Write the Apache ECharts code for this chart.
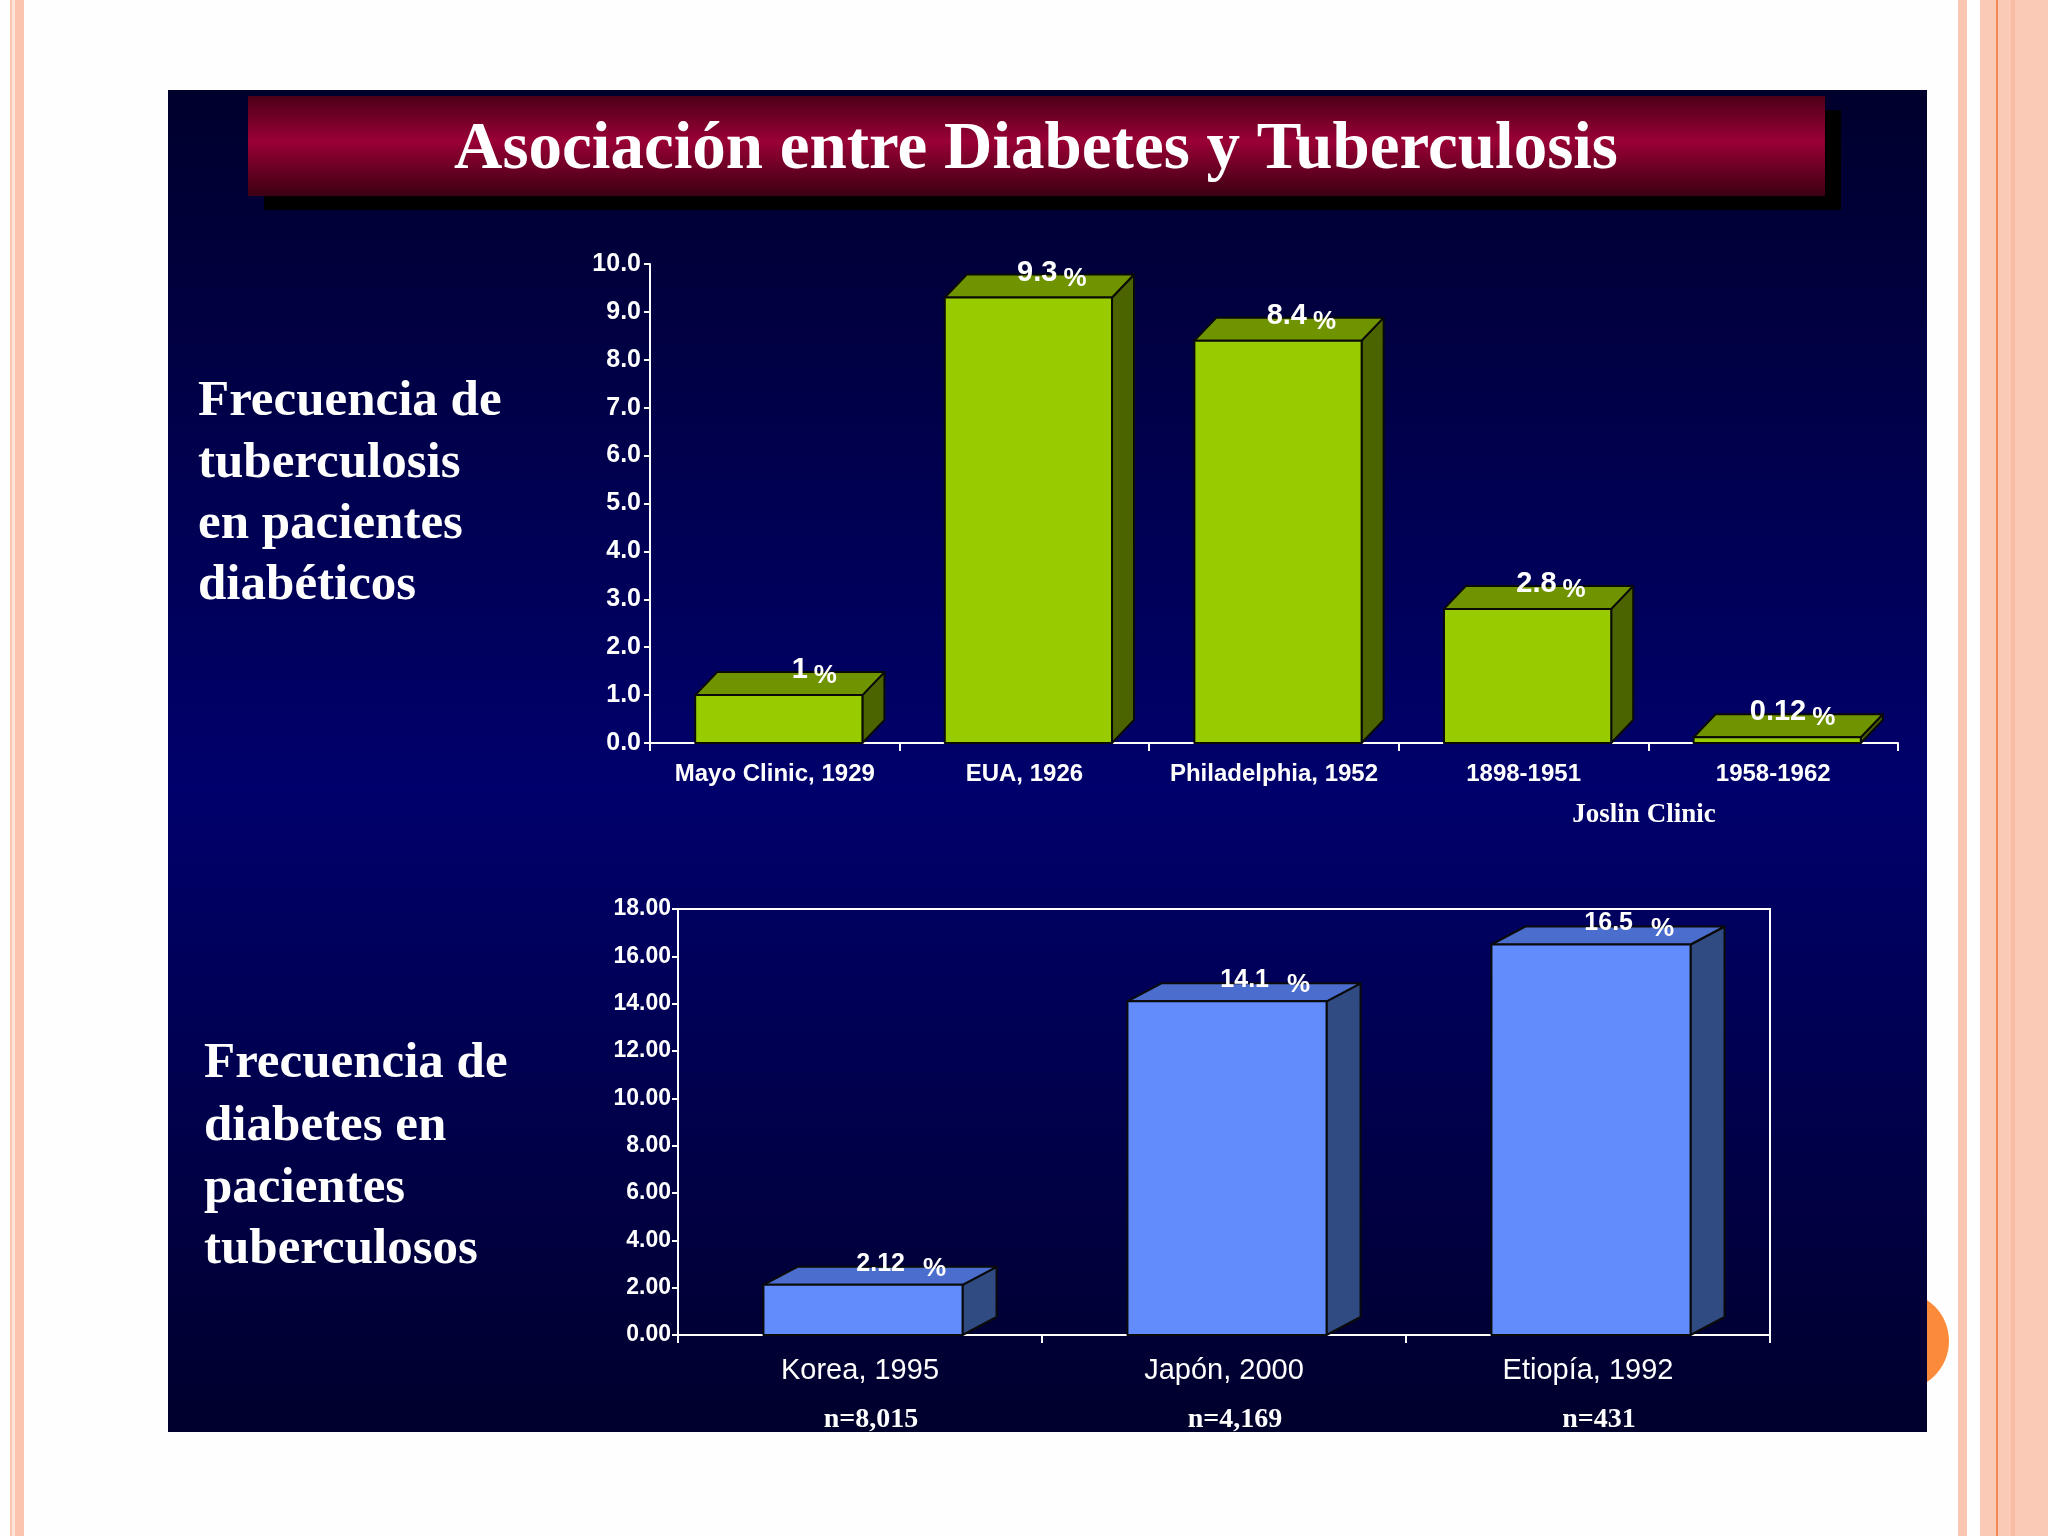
<!DOCTYPE html>
<html>
<head>
    <meta charset="utf-8">
    <title>Asociación entre Diabetes y Tuberculosis</title>
    <script src="https://cdn.jsdelivr.net/npm/echarts@6/dist/echarts.min.js"></script>
    <style>
        body { margin: 0; background: #fefefe; }
    </style>
</head>
<body>
<div id="main" style="width: 2048px;height:1536px;"></div>
<script type="text/javascript">
    // datos - grafico superior
    var tbCategories = ['Mayo Clinic, 1929', 'EUA, 1926', 'Philadelphia, 1952', '1898-1951', '1958-1962'];
    var tbValues = [1, 9.3, 8.4, 2.8, 0.12];
    var tbSideLines = ['Frecuencia de', 'tuberculosis', 'en pacientes', 'diabéticos'];
    var tbNote = 'Joslin Clinic';

    // datos - grafico inferior
    var dmCategories = ['Korea, 1995', 'Japón, 2000', 'Etiopía, 1992'];
    var dmSamples = ['n=8,015', 'n=4,169', 'n=431'];
    var dmValues = [2.12, 14.1, 16.5];
    var dmSideLines = ['Frecuencia de', 'diabetes en', 'pacientes', 'tuberculosos'];

    var titleText = 'Asociación entre Diabetes y Tuberculosis';

    var SANS = '"Liberation Sans", Arial, sans-serif';
    var SERIF = '"Liberation Serif", "Times New Roman", serif';

    // barra 3D con cara frontal, superior y lateral
    function bar3d(o) {
        return function (params, api) {
            var idx = api.value(0), val = api.value(1);
            var base = api.coord([idx, 0]);
            var top = api.coord([idx, val]);
            var bw = api.size([1, 0])[0] * o.ratio;
            var x0 = base[0] - bw / 2 + o.shift, x1 = x0 + bw;
            var yb = base[1], yt = top[1];
            var cx = (x0 + x1) / 2;
            var edge = { stroke: '#0a0a0a', lineWidth: 2, lineJoin: 'round' };
            return {
                type: 'group',
                children: [
                    {
                        type: 'polygon',
                        shape: { points: [[x1, yt], [x1, yb], [x1 + o.dx, yb - o.dy], [x1 + o.dx, yt - o.dy]] },
                        style: Object.assign({ fill: o.side }, edge)
                    },
                    {
                        type: 'polygon',
                        shape: { points: [[x0, yt], [x1, yt], [x1 + o.dx, yt - o.dy], [x0 + o.dx, yt - o.dy]] },
                        style: Object.assign({ fill: o.top }, edge)
                    },
                    {
                        type: 'rect',
                        shape: { x: x0, y: yt, width: bw, height: yb - yt },
                        style: Object.assign({ fill: o.front }, edge)
                    },
                    {
                        type: 'text',
                        style: {
                            text: String(val), x: cx + o.valDx, y: yt + o.valDy,
                            align: 'right', verticalAlign: 'middle',
                            font: 'bold ' + o.valSize + 'px ' + SANS, fill: '#ffffff',
                            shadowColor: 'rgba(0,0,0,0.8)', shadowOffsetX: 1, shadowOffsetY: 1
                        }
                    },
                    {
                        type: 'text',
                        style: {
                            text: '%', x: cx + o.pctDx, y: yt + o.pctDy,
                            align: 'left', verticalAlign: 'middle',
                            font: 'bold ' + o.pctSize + 'px ' + SANS, fill: '#ffffff',
                            shadowColor: 'rgba(0,0,0,0.8)', shadowOffsetX: 1, shadowOffsetY: 1
                        }
                    }
                ]
            };
        };
    }

    function sideText(lines, x, ys) {
        return lines.map(function (t, i) {
            return {
                type: 'text', z: 5, x: x, y: ys[i],
                style: {
                    text: t, font: 'bold 51px ' + SERIF, fill: '#ffffff',
                    align: 'left', verticalAlign: 'middle',
                    shadowColor: '#000000', shadowOffsetX: 2, shadowOffsetY: 2
                }
            };
        });
    }

    var bgElements = [
        { type: 'rect', z: -20, shape: { x: 0, y: 0, width: 2048, height: 1536 }, style: { fill: '#fefefe' } },
        { type: 'rect', z: -19, shape: { x: 10, y: 0, width: 14, height: 1536 }, style: { fill: '#fbc4ae' } },
        { type: 'rect', z: -18, shape: { x: 12, y: 0, width: 3, height: 1536 }, style: { fill: '#fde2d6' } },
        { type: 'rect', z: -19, shape: { x: 1958, y: 0, width: 9, height: 1536 }, style: { fill: '#fbc7b2' } },
        { type: 'rect', z: -19, shape: { x: 1980, y: 0, width: 68, height: 1536 }, style: { fill: '#facab6' } },
        { type: 'rect', z: -18, shape: { x: 1996, y: 0, width: 2, height: 1536 }, style: { fill: '#f08a52' } },
        { type: 'rect', z: -18, shape: { x: 2011, y: 0, width: 4, height: 1536 }, style: { fill: '#f7bca2' } },
        { type: 'circle', z: -17, shape: { cx: 1900, cy: 1341, r: 49 }, style: { fill: '#fb8b3b' } },
        {
            type: 'rect', z: -16, shape: { x: 168, y: 90, width: 1759, height: 1342 },
            style: {
                fill: new echarts.graphic.LinearGradient(0, 0, 0, 1, [
                    { offset: 0, color: '#00002c' },
                    { offset: 0.52, color: '#00006c' },
                    { offset: 1, color: '#00002c' }
                ])
            }
        },
        { type: 'rect', z: -15, shape: { x: 264, y: 110, width: 1577, height: 100 }, style: { fill: '#000000' } },
        {
            type: 'rect', z: -14, shape: { x: 248, y: 96, width: 1577, height: 100 },
            style: {
                fill: new echarts.graphic.LinearGradient(0, 0, 0, 1, [
                    { offset: 0, color: '#4c0018' },
                    { offset: 0.45, color: '#9a0036' },
                    { offset: 1, color: '#3c0012' }
                ])
            }
        },
        {
            type: 'text', z: 5, x: 1036, y: 151,
            style: {
                text: titleText, font: 'bold 67px ' + SERIF, fill: '#ffffff',
                align: 'center', verticalAlign: 'middle',
                shadowColor: '#000000', shadowOffsetX: 3, shadowOffsetY: 3
            }
        },
        {
            type: 'text', z: 5, x: 1644, y: 815,
            style: {
                text: tbNote, font: 'bold 27px ' + SERIF, fill: '#ffffff',
                align: 'center', verticalAlign: 'middle',
                shadowColor: '#000000', shadowOffsetX: 1, shadowOffsetY: 1
            }
        }
    ];

    var myChart = echarts.init(document.getElementById('main'));

    var axisWhite = { lineStyle: { color: '#ffffff', width: 2 } };

    myChart.setOption({
        animation: false,
        graphic: {
            elements: bgElements
                .concat(sideText(tbSideLines, 198, [402, 464, 525, 586]))
                .concat(sideText(dmSideLines, 204, [1064, 1127, 1189, 1250]))
        },
        grid: [
            { left: 650, top: 264, width: 1248, height: 479 },
            {
                left: 678, top: 909, width: 1092, height: 426,
                show: true, borderColor: '#ffffff', borderWidth: 2, backgroundColor: 'transparent'
            }
        ],
        xAxis: [
            {
                type: 'category', gridIndex: 0, data: tbCategories,
                axisLine: axisWhite,
                axisTick: { show: true, length: 8, lineStyle: { color: '#ffffff', width: 2 } },
                axisLabel: {
                    interval: 0,
                    color: '#ffffff', fontFamily: SANS, fontWeight: 'bold', fontSize: 24, margin: 19,
                    textShadowColor: '#000', textShadowOffsetX: 1, textShadowOffsetY: 1
                }
            },
            {
                type: 'category', gridIndex: 1, data: dmCategories,
                axisLine: axisWhite,
                axisTick: { show: true, length: 8, lineStyle: { color: '#ffffff', width: 2 } },
                axisLabel: {
                    interval: 0, margin: 12,
                    formatter: function (v, i) { return '{c|' + v + '}\n{n|' + dmSamples[i] + '}'; },
                    rich: {
                        c: { color: '#ffffff', fontFamily: SANS, fontSize: 29, lineHeight: 48,
                             textShadowColor: '#000', textShadowOffsetX: 1, textShadowOffsetY: 1 },
                        n: { color: '#ffffff', fontFamily: SERIF, fontWeight: 'bold', fontSize: 28, lineHeight: 50,
                             padding: [0, 0, 0, 22],
                             textShadowColor: '#000', textShadowOffsetX: 1, textShadowOffsetY: 1 }
                    }
                }
            }
        ],
        yAxis: [
            {
                type: 'value', gridIndex: 0, min: 0, max: 10, interval: 1,
                splitLine: { show: false },
                axisLine: { show: true, lineStyle: { color: '#ffffff', width: 2 } },
                axisTick: { show: true, length: 6, lineStyle: { color: '#ffffff', width: 2 } },
                axisLabel: {
                    color: '#ffffff', fontFamily: SANS, fontWeight: 'bold', fontSize: 25, margin: 9,
                    formatter: function (v) { return v.toFixed(1); },
                    textShadowColor: '#000', textShadowOffsetX: 1, textShadowOffsetY: 1
                }
            },
            {
                type: 'value', gridIndex: 1, min: 0, max: 18, interval: 2,
                splitLine: { show: false },
                axisLine: { show: true, lineStyle: { color: '#ffffff', width: 2 } },
                axisTick: { show: true, length: 6, lineStyle: { color: '#ffffff', width: 2 } },
                axisLabel: {
                    color: '#ffffff', fontFamily: SANS, fontWeight: 'bold', fontSize: 23, margin: 7,
                    formatter: function (v) { return v.toFixed(2); },
                    textShadowColor: '#000', textShadowOffsetX: 1, textShadowOffsetY: 1
                }
            }
        ],
        series: [
            {
                type: 'custom', name: 'tb', xAxisIndex: 0, yAxisIndex: 0,
                encode: { x: 0, y: 1 },
                renderItem: bar3d({
                    ratio: 0.67, shift: 4, dx: 22, dy: 23,
                    front: '#99cc00', top: '#6f9400', side: '#4b6400',
                    valDx: 29, valDy: -25, valSize: 29,
                    pctDx: 35, pctDy: -19, pctSize: 26
                }),
                data: tbValues.map(function (v, i) { return [i, v]; })
            },
            {
                type: 'custom', name: 'dm', xAxisIndex: 1, yAxisIndex: 1,
                encode: { x: 0, y: 1 },
                renderItem: bar3d({
                    ratio: 0.547, shift: 3, dx: 34, dy: 18,
                    front: '#628cfc', top: '#4b6dcd', side: '#304a82',
                    valDx: 42, valDy: -21, valSize: 25,
                    pctDx: 60, pctDy: -16, pctSize: 26
                }),
                data: dmValues.map(function (v, i) { return [i, v]; })
            }
        ]
    });
</script>
</body>
</html>
